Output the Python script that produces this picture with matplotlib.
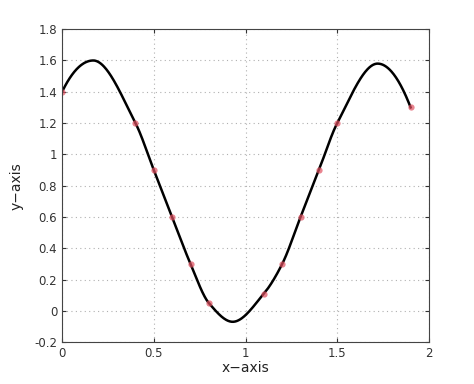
import numpy as np
import matplotlib.pyplot as plt
from matplotlib.ticker import FormatStrFormatter

# measured points (red markers)
x_pts = [0.0, 0.4, 0.5, 0.6, 0.7, 0.8, 1.1, 1.2, 1.3, 1.4, 1.5, 1.9]
y_pts = [1.4, 1.2, 0.9, 0.6, 0.3, 0.05, 0.11, 0.3, 0.6, 0.9, 1.2, 1.3]
# turning points of the black curve
x_turn = [0.17, 0.93, 1.72]
y_turn = [1.6, -0.07, 1.58]
x_ticks = [0, 0.5, 1, 1.5, 2]
y_ticks = [-0.2, 0, 0.2, 0.4, 0.6, 0.8, 1, 1.2, 1.4, 1.6, 1.8]


def pchip(x, y, xs):
    # shape preserving piecewise cubic (MATLAB pchip)
    x = np.asarray(x, float)
    y = np.asarray(y, float)
    h = np.diff(x)
    dl = np.diff(y) / h
    n = len(x)
    d = np.zeros(n)
    for k in range(1, n - 1):
        if dl[k - 1] * dl[k] > 0:
            w1 = 2 * h[k] + h[k - 1]
            w2 = h[k] + 2 * h[k - 1]
            d[k] = (w1 + w2) / (w1 / dl[k - 1] + w2 / dl[k])

    def end(h0, h1, d0, d1):
        s = ((2 * h0 + h1) * d0 - h0 * d1) / (h0 + h1)
        if np.sign(s) != np.sign(d0):
            s = 0.0
        elif np.sign(d0) != np.sign(d1) and abs(s) > abs(3 * d0):
            s = 3 * d0
        return s

    d[0] = end(h[0], h[1], dl[0], dl[1])
    d[-1] = end(h[-1], h[-2], dl[-1], dl[-2])
    i = np.clip(np.searchsorted(x, xs) - 1, 0, n - 2)
    t = (xs - x[i]) / h[i]
    h00 = 2 * t**3 - 3 * t**2 + 1
    h10 = t**3 - 2 * t**2 + t
    h01 = -2 * t**3 + 3 * t**2
    h11 = t**3 - t**2
    return h00 * y[i] + h10 * h[i] * d[i] + h01 * y[i + 1] + h11 * h[i] * d[i + 1]


xk = np.array(x_pts + x_turn)
yk = np.array(y_pts + y_turn)
order = np.argsort(xk)
xs = np.linspace(x_pts[0], x_pts[-1], 600)
ys = pchip(xk[order], yk[order], xs)

fig = plt.figure(figsize=(4.74, 3.84), dpi=100)
ax = fig.add_axes([0.131, 0.109, 0.774, 0.815])
ax.plot(xs, ys, color='black', linewidth=1.8)
ax.plot(x_pts, y_pts, 'o', color='#e05060', alpha=0.7, markersize=4.5, markeredgewidth=0)

ax.set_xlim(0, 2)
ax.set_ylim(-0.2, 1.8)
ax.set_xticks(x_ticks)
ax.set_yticks(y_ticks)
ax.xaxis.set_major_formatter(FormatStrFormatter('%g'))
ax.yaxis.set_major_formatter(FormatStrFormatter('%g'))
ax.tick_params(direction='in', top=True, right=True, labelsize=8.5, colors='#333333', length=3)
ax.grid(True, linestyle=(0, (1, 3)), color='#b0b0b0', linewidth=0.8)
for s in ax.spines.values():
    s.set_color('#444444')
ax.set_xlabel('x\u2212axis', fontsize=10, color='#222222', labelpad=1)
ax.set_ylabel('y\u2212axis', fontsize=10, color='#222222', labelpad=8)

fig.savefig('out.png', dpi=100)
